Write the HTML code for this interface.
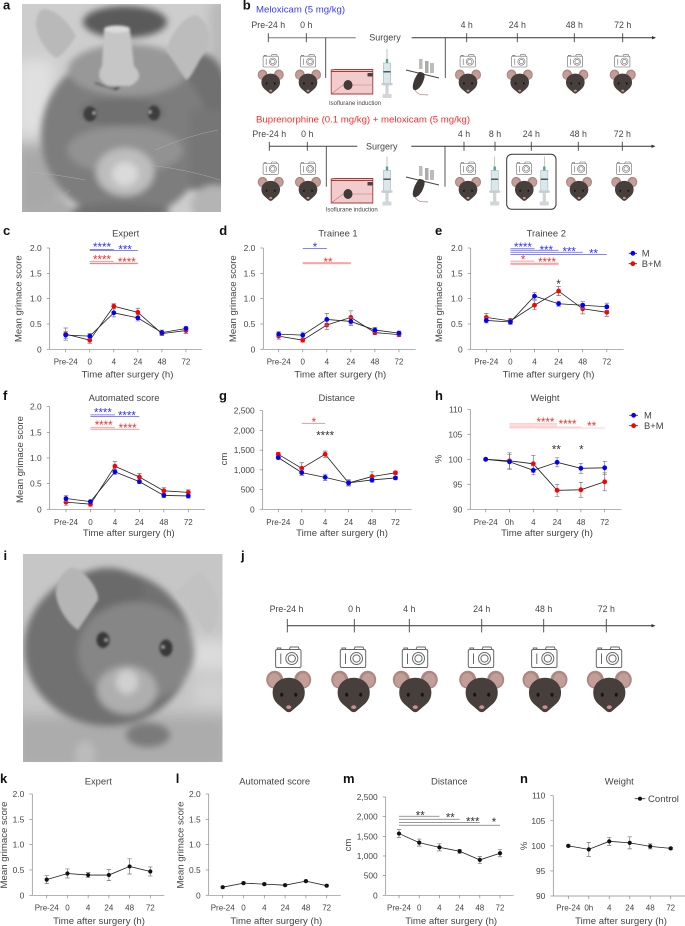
<!DOCTYPE html>
<html lang="en">
<head>
<meta charset="utf-8">
<title>Mouse grimace score figure</title>
<style>
html,body{margin:0;padding:0;background:#fff;}
svg{display:block;font-family:"Liberation Sans",sans-serif;}
text{fill:#444;}
</style>
</head>
<body>
<svg id="figure" xmlns="http://www.w3.org/2000/svg" width="685" height="926" viewBox="0 0 685 926">
<defs>
  <filter id="blur-soft"><feGaussianBlur stdDeviation="3.5"/></filter>
  <filter id="blur-big"><feGaussianBlur stdDeviation="7"/></filter>
  <filter id="blur-tiny"><feGaussianBlur stdDeviation="1.2"/></filter>
  <clipPath id="clip-a"><rect x="22" y="4" width="199" height="208"/></clipPath>
  <clipPath id="clip-i"><rect x="23" y="554" width="199.5" height="208"/></clipPath>
  <g id="mouse-icon">
    <ellipse cx="-14" cy="-12" rx="8.5" ry="9" fill="#ae8780"/>
    <ellipse cx="-14.5" cy="-11.5" rx="6" ry="7" fill="#c29e98"/>
    <ellipse cx="14" cy="-12" rx="8.5" ry="9" fill="#ae8780"/>
    <ellipse cx="14.5" cy="-11.5" rx="6" ry="7" fill="#c29e98"/>
    <path d="M0-14C9-14 15-8 16-1C16.5 6 14 10 9 14L2 20L0 20.5L-2 20L-9 14C-14 10-16.5 6-16-1C-15-8-9-14 0-14Z" fill="#463f3b"/>
    <ellipse cx="-7" cy="3" rx="1.5" ry="2" fill="#171514"/>
    <ellipse cx="7" cy="3" rx="1.5" ry="2" fill="#171514"/>
    <ellipse cx="0" cy="15.5" rx="2.6" ry="1.9" fill="#c98f8a"/>
  </g>
  <g id="camera-icon" fill="none" stroke="#666" stroke-width="1">
    <rect x="-12.7" y="-8" width="25.4" height="18" rx="1.5" fill="#fff"/>
    <path d="M-11-8V-9.5H-7.5V-8M1-8L2-10.5H10L11-8"/>
    <line x1="-7.5" y1="-4" x2="-7.5" y2="6.5"/>
    <circle cx="3.5" cy="1" r="6"/>
    <circle cx="3.5" cy="1" r="3.6"/>
  </g>
  <g id="syringe-icon">
    <line x1="0" y1="-25" x2="0" y2="-13" stroke="#aaa" stroke-width="0.7"/>
    <rect x="-1.2" y="-15" width="2.4" height="4" fill="#4fa884"/>
    <rect x="-3.6" y="-11" width="7.2" height="22" fill="#d8e8ec" stroke="#9aa" stroke-width="0.5"/>
    <rect x="-3.6" y="-3" width="7.2" height="1.5" fill="#555"/>
    <rect x="-1.6" y="11" width="3.2" height="9" fill="#cfd4d6"/>
    <rect x="-5.5" y="9" width="11" height="2.2" fill="#c8cccd"/>
    <rect x="-4.5" y="20" width="9" height="4" fill="#d3d6d8"/>
  </g>
  <g id="cage-icon">
    <rect x="-20.8" y="-12" width="41.6" height="24" fill="#f2cccc"/>
    <path d="M-20.8-12L-17-12.5H20.8V12H-20.8Z" fill="none" stroke="#a33a3a" stroke-width="0.9"/>
    <path d="M-20.8 12L-9 3H20.8" fill="none" stroke="#c57373" stroke-width="0.6"/>
    <line x1="-20.8" y1="-10.5" x2="20.8" y2="-10.5" stroke="#a83a3a" stroke-width="1"/>
    <ellipse cx="-4" cy="3" rx="4.5" ry="5" fill="#423a38"/>
    <rect x="15.5" y="-9" width="5" height="3.5" fill="#444"/>
  </g>
  <g id="stereotaxic-icon">
    <line x1="-17" y1="-8" x2="16" y2="0" stroke="#444" stroke-width="1.1"/>
    <rect x="-4" y="-19" width="3.5" height="10" fill="#bbb"/>
    <rect x="2" y="-17" width="3.5" height="12" fill="#aaa"/>
    <rect x="7" y="-15" width="4" height="10" fill="#bbb"/>
    <path d="M-4-6C2-6 3-3 0 4C-2 9-6 13-9 12C-12 10-9 0-4-6Z" fill="#3d3835"/>
    <path d="M-8 12C-4 19 2 16 5 17" fill="none" stroke="#b07a78" stroke-width="0.7"/>
  </g>
</defs>
<rect width="685" height="926" fill="#fff"/>

<text x="3" y="9.5" font-size="13" font-weight="bold" style="fill:#111">a</text>
<g clip-path="url(#clip-a)">
  <rect x="22" y="4" width="199" height="208" fill="#cdcdcd"/>
  <g filter="url(#blur-big)">
    <rect x="14" y="60" width="40" height="75" fill="#e0e0e0"/>
    <rect x="14" y="145" width="50" height="75" fill="#a8a8a8"/>
    <rect x="212" y="0" width="14" height="70" fill="#b0b0b0"/>
  </g>
  <g filter="url(#blur-soft)">
    <ellipse cx="125" cy="22" rx="42" ry="16" fill="#5a5a5a"/>
    <ellipse cx="200" cy="95" rx="28" ry="42" fill="#707070"/>
    <ellipse cx="125" cy="135" rx="84" ry="84" fill="#7d7d7d"/>
    <rect x="190" y="110" width="40" height="80" fill="#767676"/>
    <ellipse cx="128" cy="70" rx="60" ry="26" fill="#989898"/>
    <ellipse cx="122" cy="112" rx="42" ry="14" fill="#6f6f6f"/>
    <ellipse cx="125" cy="150" rx="58" ry="24" fill="#929292"/>
    <ellipse cx="215" cy="205" rx="24" ry="20" fill="#b4b4b4"/>
    <ellipse cx="50" cy="212" rx="22" ry="12" fill="#aaa"/>
    <ellipse cx="120" cy="212" rx="50" ry="9" fill="#717171"/>
    <ellipse cx="125" cy="172" rx="29" ry="24" fill="#bdbdbd"/>
    <ellipse cx="125" cy="174" rx="13" ry="12" fill="#dadada"/>
  </g>
  <g filter="url(#blur-tiny)">
    <path d="M44 9C56 9 70 24 76 36C70 46 62 56 56 58C46 52 35 34 36 22C37 14 40 10 44 9Z" fill="#b9b9b9"/>
    <path d="M196 15C208 20 212 38 208 48C198 60 192 78 186 80L166 50C172 32 184 16 196 15Z" fill="#bcbcbc"/>
    <path d="M104 30Q116 24 130 30L134 66Q146 78 130 86L108 86Q94 78 102 66Z" fill="#c6c6c6"/>
    <ellipse cx="117" cy="29" rx="13" ry="3.5" fill="#dcdcdc"/>
    <path d="M95 83L112 88L120 87L114 90" fill="none" stroke="#333" stroke-width="1.1"/>
    <ellipse cx="90" cy="114" rx="6.5" ry="7.5" fill="#3c3c3c"/>
    <ellipse cx="154" cy="113" rx="6" ry="7.5" fill="#3c3c3c"/>
    <circle cx="94" cy="113" r="1" fill="#fff"/>
    <circle cx="150" cy="112" r="1" fill="#fff"/>
  </g>
  <g stroke="#b5b5b5" stroke-width="0.4" fill="none">
    <path d="M155 150Q190 135 218 130M150 165Q190 170 220 180M70 190Q50 205 40 212M85 180Q60 175 30 172"/>
  </g>
</g>

<text x="3.5" y="560" font-size="13" font-weight="bold" style="fill:#111">i</text>
<g clip-path="url(#clip-i)">
  <rect x="23" y="554" width="200" height="208" fill="#c6c6c6"/>
  <g filter="url(#blur-big)">
    <rect x="190" y="640" width="40" height="30" fill="#dcdcdc"/>
    <rect x="15" y="715" width="215" height="55" fill="#acacac"/>
    <rect x="195" y="680" width="32" height="25" fill="#d2d2d2"/>
  </g>
  <g filter="url(#blur-soft)">
    <ellipse cx="108" cy="648" rx="84" ry="78" fill="#717171"/>
    <ellipse cx="108" cy="590" rx="36" ry="22" fill="#6a6a6a"/>
    <ellipse cx="136" cy="652" rx="58" ry="50" fill="#868686"/>
    <ellipse cx="127" cy="690" rx="30" ry="24" fill="#aeaeae"/>
    <ellipse cx="127" cy="682" rx="11" ry="12" fill="#d0d0d0"/>
    <ellipse cx="148" cy="735" rx="22" ry="12" fill="#7a7a7a"/>
    <ellipse cx="85" cy="755" rx="10" ry="14" fill="#bbb"/>
  </g>
  <g filter="url(#blur-tiny)">
    <path d="M70 568C82 565 100 590 98 600L78 630C65 622 54 600 56 590C58 578 64 572 70 568Z" fill="#b5b5b5"/>
    <path d="M198 572C205 570 215 590 219 605C218 625 210 640 204 630C196 615 182 605 174 595C182 585 192 578 198 572Z" fill="#c2c2c2"/>
    <ellipse cx="103" cy="640" rx="6.5" ry="8" fill="#383838"/>
    <ellipse cx="166" cy="648" rx="6.5" ry="8.5" fill="#383838"/>
    <circle cx="106" cy="640" r="1" fill="#fff"/>
    <circle cx="163" cy="647" r="1" fill="#fff"/>
  </g>
</g>

<g id="schemes"></g>
<g id="charts"></g>
</svg>

<script>
const NS = 'http://www.w3.org/2000/svg';

/* ---------- chart data ---------- */
const categories = ['Pre-24', '0', '4', '24', '48', '72'];
const weightCategories = ['Pre-24', '0h', '4', '24', '48', '72'];
const grimaceTicks = [0, 0.5, 1, 1.5, 2];
const grimaceTickLabels = ['0', '0.5', '1.0', '1.5', '2.0'];
const distanceTicks = [0, 500, 1000, 1500, 2000, 2500];
const distanceTickLabels = ['0', '500', '1,000', '1,500', '2,000', '2,500'];
const weightTicks = [90, 95, 100, 105, 110];
const weightTickLabels = ['90', '95', '100', '105', '110'];

const expertM = [0.28, 0.26, 0.72, 0.62, 0.33, 0.41];
const expertMErr = [0.07, 0.05, 0.08, 0.06, 0.05, 0.04];
const expertBM = [0.30, 0.18, 0.85, 0.73, 0.31, 0.37];
const expertBMErr = [0.12, 0.06, 0.05, 0.08, 0.04, 0.06];

const trainee1M = [0.30, 0.28, 0.59, 0.55, 0.38, 0.32];
const trainee1MErr = [0.05, 0.06, 0.12, 0.08, 0.05, 0.04];
const trainee1BM = [0.26, 0.18, 0.48, 0.63, 0.33, 0.29];
const trainee1BMErr = [0.06, 0.04, 0.09, 0.13, 0.04, 0.04];

const trainee2M = [0.57, 0.54, 1.05, 0.90, 0.87, 0.84];
const trainee2MErr = [0.05, 0.05, 0.07, 0.05, 0.07, 0.07];
const trainee2BM = [0.63, 0.56, 0.87, 1.15, 0.80, 0.73];
const trainee2BMErr = [0.08, 0.05, 0.09, 0.09, 0.10, 0.08];

const automatedM = [0.21, 0.15, 0.73, 0.54, 0.27, 0.26];
const automatedMErr = [0.06, 0.03, 0.05, 0.04, 0.04, 0.04];
const automatedBM = [0.14, 0.10, 0.84, 0.63, 0.36, 0.33];
const automatedBMErr = [0.06, 0.04, 0.09, 0.07, 0.06, 0.05];

const distanceM = [1310, 930, 810, 670, 745, 795];
const distanceMErr = [40, 70, 80, 60, 60, 40];
const distanceBM = [1395, 1040, 1395, 670, 830, 925];
const distanceBMErr = [50, 140, 80, 80, 120, 40];

const weightM = [100, 99.5, 97.8, 99.4, 98.2, 98.3];
const weightMErr = [0.1, 1.5, 0.9, 0.9, 1.0, 1.3];
const weightBM = [100, 99.7, 99.1, 93.8, 93.9, 95.5];
const weightBMErr = [0.1, 1.6, 1.7, 1.2, 1.5, 1.8];

const ctrlExpert = [0.31, 0.43, 0.40, 0.40, 0.57, 0.47];
const ctrlExpertErr = [0.08, 0.09, 0.05, 0.11, 0.15, 0.09];
const ctrlAutomated = [0.16, 0.24, 0.22, 0.20, 0.28, 0.19];
const ctrlAutomatedErr = [0.02, 0.02, 0.02, 0.02, 0.02, 0.02];
const ctrlDistance = [1570, 1340, 1220, 1120, 900, 1070];
const ctrlDistanceErr = [100, 90, 90, 50, 90, 90];
const ctrlWeight = [100, 99.3, 100.9, 100.6, 99.9, 99.5];
const ctrlWeightErr = [0.2, 1.4, 0.8, 1.2, 0.5, 0.2];

/* significance brackets: from category, to category, axis level, group */
const sigExpert = [[1,2,1.97,'M'],[1,3,1.95,'M'],[1,2,1.73,'B'],[1,3,1.70,'B'],[1,3,1.69,'B']];
const sigTrainee1 = [[1,2,1.99,'M'],[1,3,1.71,'B'],[1,3,1.69,'B']];
const sigTrainee2 = [[1,2,1.985,'M'],[1,3,1.955,'M'],[1,4,1.915,'M'],[1,5,1.875,'M'],[1,2,1.74,'B'],[1,3,1.70,'B'],[1,3,1.68,'B']];
const sigAutomated = [[1,2,1.84,'M'],[1,3,1.81,'M'],[1,2,1.59,'B'],[1,3,1.56,'B']];
const sigDistance = [[1,2,2180,'B']];
const sigWeight = [[1,3,107.15,'P'],[1,3,106.9,'P'],[1,3,106.65,'P'],[1,4,106.45,'P'],[1,5,106.25,'P']];
const sigCtrlDistance = [[0,2,2009,'K'],[0,3,1933,'K'],[0,4,1856,'K'],[0,5,1780,'K']];

/* significance stars: category position, axis level, text, group */
const starsExpert = [[1.51,2.07,'****','M'],[2.47,2.02,'***','M'],[1.51,1.82,'****','B'],[2.54,1.77,'****','B']];
const starsTrainee1 = [[1.51,2.07,'*','M'],[2.05,1.77,'**','B']];
const starsTrainee2 = [[1.52,2.07,'****','M'],[2.49,2.01,'***','M'],[3.44,1.98,'***','M'],[4.45,1.94,'**','M'],[1.53,1.82,'*','B'],[2.52,1.77,'****','B'],[3,1.34,'*','K']];
const starsAutomated = [[1.51,1.935,'****','M'],[2.49,1.88,'****','M'],[1.54,1.69,'****','B'],[2.52,1.64,'****','B']];
const starsDistance = [[1.52,2282,'*','B'],[2,1942,'****','K']];
const starsWeight = [[2.51,108,'****','B'],[3.44,107.6,'****','B'],[4.45,107.2,'**','B'],[2.97,102.5,'**','K'],[4.02,102.5,'*','K']];
const starsCtrlDistance = [[1.05,2093,'**','K'],[2.54,2042,'**','K'],[3.65,1940,'***','K'],[4.7,1933,'*','K']];

/* ---------- helpers ---------- */
function make(tag, attrs, parent, text) {
  const el = document.createElementNS(NS, tag);
  for (const k in attrs) el.setAttribute(k, attrs[k]);
  if (text !== undefined) el.textContent = text;
  parent.appendChild(el);
  return el;
}

const SIG_COLORS = {M: '#5a5aff', B: '#ff7d7d', P: '#ffc0c0', K: '#777'};
const STAR_COLORS = {M: '#3232ff', B: '#ff2b2b', K: '#333'};

/* ---------- chart panel ---------- */
function drawPanel(p) {
  const g = make('g', {}, document.getElementById('charts'));
  
  

  const xScale = i => p.xFirst + i * p.xStep;
  const yScale = v => p.yBottom - (v - p.yTicks[0]) / (p.yTicks[p.yTicks.length - 1] - p.yTicks[0]) * (p.yBottom - p.yTop);

  const letter = make('text', {x: p.letterX, y: p.letterY, 'font-size': 13, 'font-weight': 'bold', style: 'fill:#111'}, g, p.id);
  
  

  const title = make('text', {x: p.titleX, y: p.titleY, 'font-size': 9.4, 'text-anchor': 'middle'}, g, p.title);
  
  

  const xTitle = make('text', {x: p.xTitleX, y: p.xTitleY, 'font-size': 9.6, 'text-anchor': 'middle'}, g, 'Time after surgery (h)');
  
  

  const yTitle = make('text', {transform: 'translate(' + p.yTitleX + ',' + p.yTitleY + ') rotate(-90)', 'font-size': 9.6, 'text-anchor': 'middle', 'dominant-baseline': 'central'}, g, p.yTitle);
  
  

  const yAxis = make('line', {x1: p.axisX, x2: p.axisX, y1: p.yTop, y2: p.yBottom, stroke: '#888', 'stroke-width': 0.7}, g);
  
  

  const xAxis = make('line', {x1: p.axisX, x2: p.axisEnd, y1: p.yBottom, y2: p.yBottom, stroke: '#888', 'stroke-width': 0.7}, g);
  
  

  p.yTicks.forEach((v, i) => {
    const tick = make('line', {x1: p.axisX - 3, x2: p.axisX, y1: yScale(v), y2: yScale(v), stroke: '#888', 'stroke-width': 0.7}, g);
    
    
    const label = make('text', {x: p.axisX - 8, y: yScale(v) + 3, 'font-size': 8.4, 'text-anchor': 'end'}, g, p.yLabels[i]);
    
    
  });

  p.categories.forEach((c, i) => {
    const tick = make('line', {x1: xScale(i), x2: xScale(i), y1: p.yBottom, y2: p.yBottom + 3, stroke: '#888', 'stroke-width': 0.7}, g);
    
    
    const label = make('text', {x: xScale(i), y: p.xLabelY, 'font-size': 8, 'text-anchor': 'middle'}, g, c);
    
    
  });

  (p.sig || []).forEach(s => {
    const bar = make('line', {x1: xScale(s[0]), x2: xScale(s[1]), y1: yScale(s[2]), y2: yScale(s[2]), stroke: SIG_COLORS[s[3]], 'stroke-width': 0.75}, g);
    
    
  });

  (p.stars || []).forEach(s => {
    const star = make('text', {x: xScale(s[0]), y: yScale(s[1]) + 6.6, 'font-size': 11.5, 'text-anchor': 'middle', style: 'fill:' + STAR_COLORS[s[3]]}, g, s[2]);
    
    
  });

  p.series.forEach(s => {
    const sg = make('g', {}, g);
    
    

    s.values.forEach((v, i) => {
      const x = xScale(i);
      const e = s.errors[i];
      const err = make('path', {
        d: 'M' + x + ' ' + yScale(v - e) + 'V' + yScale(v + e) +
           'M' + (x - 2.2) + ' ' + yScale(v - e) + 'H' + (x + 2.2) +
           'M' + (x - 2.2) + ' ' + yScale(v + e) + 'H' + (x + 2.2),
        fill: 'none', stroke: '#777', 'stroke-width': 0.7
      }, sg);
      
      
    });

    const pts = s.values.map((v, i) => xScale(i) + ',' + yScale(v)).join(' ');
    const line = make('polyline', {points: pts, fill: 'none', stroke: '#222', 'stroke-width': 0.8}, sg);
    
    

    s.values.forEach((v, i) => {
      const pt = make('circle', {cx: xScale(i), cy: yScale(v), r: s.r || 2.4, fill: s.color}, sg);
      
      
    });
  });
}

function drawLegend(lineX1, lineX2, textX, y1, y2) {
  const g = make('g', {}, document.getElementById('charts'));
  
  
  const entries = [['M', '#0000ff', y1], ['B+M', '#ff0000', y2]];
  entries.forEach(en => {
    const line = make('line', {x1: lineX1, x2: lineX2, y1: en[2], y2: en[2], stroke: '#222', 'stroke-width': 0.8}, g);
    
    
    const dot = make('circle', {cx: (lineX1 + lineX2) / 2, cy: en[2], r: 2.4, fill: en[1]}, g);
    
    
    const label = make('text', {x: textX, y: en[2] + 3.3, 'font-size': 9.4}, g, en[0]);
    
    
  });
}

const BLUE = '#0000ff';
const RED = '#ff0000';
const BLACK = '#111';

function pair(bm, bmErr, m, mErr) {
  return [
    {name: 'b-plus-m', values: bm, errors: bmErr, color: RED},
    {name: 'm', values: m, errors: mErr, color: BLUE}
  ];
}

drawPanel({id: 'c', title: 'Expert', titleX: 125.7, titleY: 236.7, letterX: 3, letterY: 235,
  xFirst: 65.7, xStep: 24.05, axisX: 49.7, axisEnd: 202, yTop: 248, yBottom: 349.3, xLabelY: 364.5,
  xTitleX: 127.5, xTitleY: 377.7, yTitle: 'Mean grimace score', yTitleX: 19, yTitleY: 298.7,
  yTicks: grimaceTicks, yLabels: grimaceTickLabels, categories: categories,
  sig: sigExpert, stars: starsExpert, series: pair(expertBM, expertBMErr, expertM, expertMErr)});

drawPanel({id: 'd', title: 'Trainee 1', titleX: 338, titleY: 236.7, letterX: 219.3, letterY: 235,
  xFirst: 278.7, xStep: 24.05, axisX: 263.3, axisEnd: 415.7, yTop: 248, yBottom: 349.3, xLabelY: 364.5,
  xTitleX: 340.3, xTitleY: 377.7, yTitle: 'Mean grimace score', yTitleX: 233.3, yTitleY: 298.7,
  yTicks: grimaceTicks, yLabels: grimaceTickLabels, categories: categories,
  sig: sigTrainee1, stars: starsTrainee1, series: pair(trainee1BM, trainee1BMErr, trainee1M, trainee1MErr)});

drawPanel({id: 'e', title: 'Trainee 2', titleX: 546.3, titleY: 236.7, letterX: 435, letterY: 235,
  xFirst: 486.3, xStep: 24.1, axisX: 470.7, axisEnd: 623.7, yTop: 248, yBottom: 349.3, xLabelY: 364.5,
  xTitleX: 548.5, xTitleY: 377.7, yTitle: 'Mean grimace score', yTitleX: 439.3, yTitleY: 298.7,
  yTicks: grimaceTicks, yLabels: grimaceTickLabels, categories: categories,
  sig: sigTrainee2, stars: starsTrainee2, series: pair(trainee2BM, trainee2BMErr, trainee2M, trainee2MErr)});

drawLegend(628.7, 637, 641.7, 253.3, 263.7);

drawPanel({id: 'f', title: 'Automated score', titleX: 124, titleY: 401, letterX: 3, letterY: 400,
  xFirst: 66, xStep: 24.46, axisX: 49.7, axisEnd: 205, yTop: 406.7, yBottom: 509.3, xLabelY: 525,
  xTitleX: 128.8, xTitleY: 536, yTitle: 'Mean grimace score', yTitleX: 20.7, yTitleY: 459.5,
  yTicks: grimaceTicks, yLabels: grimaceTickLabels, categories: categories,
  sig: sigAutomated, stars: starsAutomated, series: pair(automatedBM, automatedBMErr, automatedM, automatedMErr)});

drawPanel({id: 'g', title: 'Distance', titleX: 336.7, titleY: 401, letterX: 219, letterY: 400,
  xFirst: 278.3, xStep: 23.43, axisX: 262.7, axisEnd: 411.7, yTop: 410.7, yBottom: 509.3, xLabelY: 525,
  xTitleX: 342, xTitleY: 536, yTitle: 'cm', yTitleX: 224.7, yTitleY: 459,
  yTicks: distanceTicks, yLabels: distanceTickLabels, categories: categories,
  sig: sigDistance, stars: starsDistance, series: pair(distanceBM, distanceBMErr, distanceM, distanceMErr)});

drawPanel({id: 'h', title: 'Weight', titleX: 545, titleY: 401, letterX: 435, letterY: 400,
  xFirst: 485.7, xStep: 23.8, axisX: 470.3, axisEnd: 621.3, yTop: 409.3, yBottom: 509.3, xLabelY: 525,
  xTitleX: 547, xTitleY: 536, yTitle: '%', yTitleX: 439, yTitleY: 459,
  yTicks: weightTicks, yLabels: weightTickLabels, categories: weightCategories,
  sig: sigWeight, stars: starsWeight, series: pair(weightBM, weightBMErr, weightM, weightMErr)});

drawLegend(629.3, 638, 644, 415.3, 425.7);

drawPanel({id: 'k', title: 'Expert', titleX: 98.3, titleY: 784.3, letterX: 0, letterY: 783,
  xFirst: 46.7, xStep: 20.72, axisX: 32.3, axisEnd: 164.3, yTop: 794, yBottom: 895.3, xLabelY: 910.5,
  xTitleX: 99, xTitleY: 924, yTitle: 'Mean grimace score', yTitleX: 4.7, yTitleY: 845,
  yTicks: grimaceTicks, yLabels: grimaceTickLabels, categories: categories,
  series: [{name: 'control', values: ctrlExpert, errors: ctrlExpertErr, color: BLACK, r: 2.1}]});

drawPanel({id: 'l', title: 'Automated score', titleX: 274.7, titleY: 784.3, letterX: 175.7, letterY: 783,
  xFirst: 222.7, xStep: 20.8, axisX: 208.7, axisEnd: 340.7, yTop: 794, yBottom: 895.3, xLabelY: 910.5,
  xTitleX: 276.3, xTitleY: 924, yTitle: 'Mean grimace score', yTitleX: 181, yTitleY: 845,
  yTicks: grimaceTicks, yLabels: grimaceTickLabels, categories: categories,
  series: [{name: 'control', values: ctrlAutomated, errors: ctrlAutomatedErr, color: BLACK, r: 2.1}]});

drawPanel({id: 'm', title: 'Distance', titleX: 449.3, titleY: 784.3, letterX: 343, letterY: 783,
  xFirst: 399, xStep: 20.2, axisX: 385.7, axisEnd: 513.7, yTop: 797, yBottom: 895.3, xLabelY: 910.5,
  xTitleX: 451.2, xTitleY: 924, yTitle: 'cm', yTitleX: 348.3, yTitleY: 845,
  yTicks: distanceTicks, yLabels: distanceTickLabels, categories: categories,
  sig: sigCtrlDistance, stars: starsCtrlDistance,
  series: [{name: 'control', values: ctrlDistance, errors: ctrlDistanceErr, color: BLACK, r: 2.1}]});

drawPanel({id: 'n', title: 'Weight', titleX: 619.3, titleY: 784.3, letterX: 520, letterY: 783,
  xFirst: 568.3, xStep: 20.48, axisX: 553.3, axisEnd: 685, yTop: 795.7, yBottom: 896, xLabelY: 910.5,
  xTitleX: 621, xTitleY: 924, yTitle: '%', yTitleX: 524.3, yTitleY: 846,
  yTicks: weightTicks, yLabels: weightTickLabels, categories: weightCategories,
  series: [{name: 'control', values: ctrlWeight, errors: ctrlWeightErr, color: BLACK, r: 2.1}]});

(function controlLegend() {
  const g = make('g', {}, document.getElementById('charts'));
  
  
  const line = make('line', {x1: 634.7, x2: 645.3, y1: 798.7, y2: 798.7, stroke: '#222', 'stroke-width': 0.8}, g);
  
  
  const dot = make('circle', {cx: 640, cy: 798.7, r: 2.1, fill: '#111'}, g);
  
  
  const label = make('text', {x: 648, y: 802, 'font-size': 9.6}, g, 'Control');
  
  
})();

/* ---------- schematics ---------- */
function useIcon(parent, id, x, y, s) {
  const u = make('use', {href: '#' + id, transform: 'translate(' + x + ',' + y + ') scale(' + s + ')'}, parent);
  return u;
}

function drawTimeline(t) {
  const g = make('g', {}, document.getElementById('schemes'));
  
  

  t.segments.forEach(seg => {
    const line = make('line', {x1: seg[0], x2: seg[1], y1: t.y, y2: t.y, stroke: seg[2], 'stroke-width': 1}, g);
    
    
  });

  const arrow = make('path', {d: 'M' + t.arrowX + ' ' + t.y + 'l-4 -1.7v3.4z', fill: '#333'}, g);
  
  

  t.ticks.forEach(k => {
    const tick = make('line', {x1: k[0], x2: k[0], y1: t.y - t.tickUp, y2: t.y + t.tickDown, stroke: '#444', 'stroke-width': 0.9}, g);
    
    
    const label = make('text', {x: k[1] || k[0], y: t.labelY, 'font-size': t.labelSize, 'text-anchor': 'middle'}, g, k[2]);
    
    
  });

  (t.longTicks || []).forEach(x => {
    const tick = make('line', {x1: x, x2: x, y1: t.y, y2: t.longEnd, stroke: '#444', 'stroke-width': 0.9}, g);
    
    
  });

  t.cameras.forEach(c => {
    const cam = useIcon(g, 'camera-icon', c, t.camY, t.camScale);
    
    
  });

  t.mice.forEach(c => {
    const m = useIcon(g, 'mouse-icon', c, t.mouseY, t.mouseScale);
    
    
  });

  (t.syringes || []).forEach(c => {
    const s = useIcon(g, 'syringe-icon', c, t.syringeY, 1);
    
    
  });
}

drawTimeline({
  name: 'timeline-meloxicam', y: 37.7, labelY: 28, labelSize: 8.8, arrowX: 656, tickUp: 4.5, tickDown: 4.5,
  segments: [[268.3, 355.7, '#777'], [411.7, 655, '#333']],
  ticks: [[268.3, 0, 'Pre-24 h'], [306.3, 0, '0 h'], [466.7, 0, '4 h'], [517.3, 0, '24 h'], [574.3, 0, '48 h'], [622.7, 0, '72 h']],
  longTicks: [325.7, 445.3], longEnd: 78,
  cameras: [270.7, 308, 467.7, 519.3, 575, 622.3], camY: 61, camScale: 0.6,
  mice: [270.7, 308, 468, 519.7, 575.3, 622.7], mouseY: 81.7, mouseScale: 0.58,
  syringes: [387], syringeY: 74
});

drawTimeline({
  name: 'timeline-buprenorphine-meloxicam', y: 146.3, labelY: 137, labelSize: 8.8, arrowX: 655.5, tickUp: 4.5, tickDown: 4.5,
  segments: [[269.3, 357.3, '#444'], [411.3, 654, '#333']],
  ticks: [[269.3, 0, 'Pre-24 h'], [307.3, 0, '0 h'], [464, 0, '4 h'], [495, 0, '8 h'], [531.3, 0, '24 h'], [578.3, 0, '48 h'], [622.3, 0, '72 h']],
  longTicks: [326.3, 445], longEnd: 186.7,
  cameras: [270.7, 308, 468, 524, 579, 624], camY: 168.3, camScale: 0.6,
  mice: [270.7, 308, 468, 524.3, 579, 624.3], mouseY: 189, mouseScale: 0.58,
  syringes: [387, 494.7, 544.3], syringeY: 181.5
});

drawTimeline({
  name: 'timeline-control', y: 625.7, labelY: 612, labelSize: 8.8, arrowX: 655.5, tickUp: 6.7, tickDown: 6.7,
  segments: [[287.3, 654, '#333']],
  ticks: [[287.3, 286.5, 'Pre-24 h'], [354.3, 0, '0 h'], [409.3, 0, '4 h'], [481.7, 0, '24 h'], [543.7, 0, '48 h'], [606.3, 0, '72 h']],
  cameras: [288.3, 353, 415, 481, 544.3, 609], camY: 657.5, camScale: 1,
  mice: [288.7, 353.7, 415.3, 481.7, 545, 609.3], mouseY: 691.7, mouseScale: 1
});

(function extras() {
  const s = document.getElementById('schemes');

  const letterB = make('text', {x: 242.7, y: 9.5, 'font-size': 13, 'font-weight': 'bold', style: 'fill:#111'}, s, 'b');
  
  

  const letterJ = make('text', {x: 241, y: 560, 'font-size': 13, 'font-weight': 'bold', style: 'fill:#111'}, s, 'j');
  
  

  const head1 = make('text', {x: 256, y: 12.5, 'font-size': 9.6, style: 'fill:#3a3aff'}, s, 'Meloxicam (5 mg/kg)');
  
  

  const head2 = make('text', {x: 256, y: 122.7, 'font-size': 9.6, style: 'fill:#ff2b2b'}, s, 'Buprenorphine (0.1 mg/kg) + meloxicam (5 mg/kg)');
  
  

  const surg1 = make('text', {x: 385, y: 40.5, 'font-size': 9, 'text-anchor': 'middle'}, s, 'Surgery');
  
  

  const surg2 = make('text', {x: 381.7, y: 149.5, 'font-size': 9, 'text-anchor': 'middle'}, s, 'Surgery');
  
  

  const cage1 = useIcon(s, 'cage-icon', 352, 82, 1);
  
  

  const cage2 = useIcon(s, 'cage-icon', 352, 191, 1);
  
  

  const iso1 = make('text', {x: 355, y: 105, 'font-size': 6, 'text-anchor': 'middle'}, s, 'Isoflurane induction');
  
  

  const iso2 = make('text', {x: 351.7, y: 211.5, 'font-size': 6, 'text-anchor': 'middle'}, s, 'Isoflurane induction');
  
  

  const st1 = useIcon(s, 'stereotaxic-icon', 423, 78, 1);
  
  

  const st2 = useIcon(s, 'stereotaxic-icon', 423, 185, 1);
  
  

  const box = make('rect', {x: 506.7, y: 154.3, width: 49.3, height: 55, rx: 5, fill: 'none', stroke: '#333', 'stroke-width': 1}, s);
  
  
})();
</script>
</body>
</html>
